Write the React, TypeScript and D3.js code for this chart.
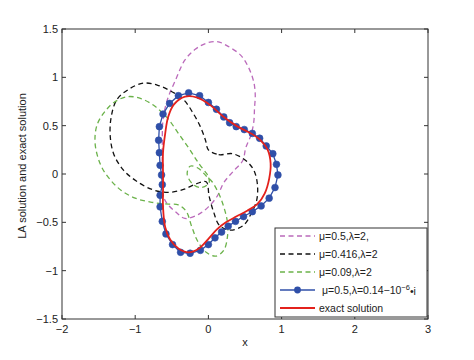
import React, { useEffect, useRef } from 'react';
import * as d3 from 'd3';

// curve points, [x, y] in data units
const magentaCurve: [number, number][] = [
  [-0.62, -0.22], [-0.63, 0.04], [-0.63, 0.30], [-0.62, 0.56], [-0.56, 0.77], [-0.45, 0.97],
  [-0.32, 1.18], [-0.18, 1.29], [-0.04, 1.35], [0.12, 1.37], [0.27, 1.32], [0.44, 1.23],
  [0.55, 1.10], [0.62, 0.95], [0.64, 0.82], [0.63, 0.68], [0.62, 0.54], [0.58, 0.40],
  [0.51, 0.27], [0.47, 0.14], [0.33, 0.02], [0.21, -0.09], [0.12, -0.23], [0.00, -0.34],
  [-0.14, -0.42], [-0.32, -0.46], [-0.45, -0.39], [-0.56, -0.31],
];

const blackCurve: [number, number][] = [
  [0.00, 0.25], [0.14, 0.20], [0.33, 0.21], [0.51, 0.14], [0.62, 0.04], [0.67, -0.11],
  [0.66, -0.27], [0.59, -0.40], [0.48, -0.53], [0.30, -0.58], [0.15, -0.53], [0.07, -0.39],
  [0.01, -0.23], [-0.03, -0.08], [-0.16, -0.10], [-0.34, -0.16], [-0.55, -0.19], [-0.77, -0.16],
  [-0.99, -0.07], [-1.16, 0.04], [-1.29, 0.20], [-1.34, 0.38], [-1.33, 0.58], [-1.25, 0.77],
  [-1.08, 0.88], [-0.89, 0.94], [-0.70, 0.92], [-0.52, 0.86], [-0.34, 0.77], [-0.21, 0.63],
  [-0.11, 0.49], [-0.04, 0.35],
];

const greenCurve: [number, number][] = [
  [-0.01, -0.01], [-0.14, 0.12], [-0.27, 0.27], [-0.41, 0.42], [-0.56, 0.58], [-0.73, 0.70],
  [-0.92, 0.78], [-1.11, 0.80], [-1.29, 0.74], [-1.42, 0.64], [-1.52, 0.51], [-1.55, 0.35],
  [-1.52, 0.20], [-1.45, 0.06], [-1.34, -0.06], [-1.19, -0.17], [-1.00, -0.25], [-0.79, -0.29],
  [-0.59, -0.31], [-0.41, -0.32], [-0.30, -0.39], [-0.23, -0.54], [-0.15, -0.69], [-0.03, -0.81],
  [0.10, -0.85], [0.21, -0.79], [0.26, -0.65], [0.26, -0.50], [0.21, -0.34], [0.14, -0.20],
  [0.05, -0.08], [-0.03, -0.02], [-0.14, 0.06], [-0.25, 0.08], [-0.29, 0.00], [-0.22, -0.10],
  [-0.10, -0.14], [0.01, -0.09], [-0.01, -0.01],
];

const blueCurve: [number, number][] = [
  [-0.63, -0.11], [-0.64, -0.01], [-0.66, 0.09], [-0.67, 0.22], [-0.68, 0.35], [-0.67, 0.49],
  [-0.62, 0.62], [-0.53, 0.73], [-0.41, 0.81], [-0.27, 0.84], [-0.12, 0.81], [0.00, 0.74],
  [0.11, 0.67], [0.21, 0.59], [0.29, 0.53], [0.38, 0.49], [0.49, 0.46], [0.60, 0.42],
  [0.70, 0.37], [0.79, 0.29], [0.88, 0.21], [0.93, 0.10], [0.95, -0.01], [0.91, -0.14],
  [0.83, -0.25], [0.72, -0.33], [0.60, -0.39], [0.48, -0.44], [0.37, -0.49], [0.27, -0.54],
  [0.18, -0.60], [0.09, -0.66], [0.00, -0.73], [-0.11, -0.79], [-0.25, -0.82], [-0.38, -0.81],
  [-0.49, -0.73], [-0.58, -0.62], [-0.63, -0.49], [-0.66, -0.34], [-0.66, -0.22],
];

const exactCurve: [number, number][] = [
  [-0.62, -0.17], [-0.62, 0.01], [-0.62, 0.22], [-0.59, 0.42], [-0.55, 0.59], [-0.47, 0.72],
  [-0.32, 0.80], [-0.15, 0.79], [0.03, 0.71], [0.21, 0.59], [0.40, 0.49], [0.58, 0.42],
  [0.71, 0.35], [0.81, 0.25], [0.85, 0.11], [0.83, -0.05], [0.77, -0.20], [0.67, -0.31],
  [0.53, -0.38], [0.38, -0.44], [0.24, -0.50], [0.12, -0.57], [0.00, -0.67], [-0.13, -0.77],
  [-0.27, -0.81], [-0.41, -0.77], [-0.52, -0.68], [-0.59, -0.55], [-0.62, -0.34],
];

const xTicks = [-2, -1, 0, 1, 2, 3];
const yTicks = [-1.5, -1, -0.5, 0, 0.5, 1, 1.5];

const MAGENTA = '#bb6abb';
const BLACK = '#111111';
const GREEN = '#6bb24a';
const BLUE = '#2f4fa8';
const RED = '#e3211c';

const FONT = '"Liberation Sans", Arial, sans-serif';

export default function App() {
  const svgRef = useRef<SVGSVGElement>(null);

  useEffect(() => {
    if (!svgRef.current) return;
    const svg = d3.select(svgRef.current);
    svg.selectAll('*').remove();

    const left = 62, right = 428, top = 29, bottom = 319;
    const x = d3.scaleLinear().domain([-2, 3]).range([left, right]);
    const y = d3.scaleLinear().domain([-1.5, 1.5]).range([bottom, top]);

    svg.append('rect').attr('width', 474).attr('height', 360).attr('fill', '#fff');

    const plot = svg.append('g');
    const smoothClosed = d3.line<[number, number]>()
      .x(d => x(d[0])).y(d => y(d[1]))
      .curve(d3.curveCatmullRomClosed.alpha(0.5));
    const smoothOpen = d3.line<[number, number]>()
      .x(d => x(d[0])).y(d => y(d[1]))
      .curve(d3.curveCatmullRom.alpha(0.5));
    const straightClosed = d3.line<[number, number]>()
      .x(d => x(d[0])).y(d => y(d[1]))
      .curve(d3.curveLinearClosed);

    const dash = '5,3.5';
    plot.append('path').attr('d', smoothClosed(magentaCurve))
      .attr('fill', 'none').attr('stroke', MAGENTA).attr('stroke-width', 1.3).attr('stroke-dasharray', dash);
    plot.append('path').attr('d', smoothClosed(blackCurve))
      .attr('fill', 'none').attr('stroke', BLACK).attr('stroke-width', 1.3).attr('stroke-dasharray', dash);
    plot.append('path').attr('d', smoothOpen(greenCurve))
      .attr('fill', 'none').attr('stroke', GREEN).attr('stroke-width', 1.3).attr('stroke-dasharray', dash);

    plot.append('path').attr('d', straightClosed(blueCurve))
      .attr('fill', 'none').attr('stroke', BLUE).attr('stroke-width', 1.3);
    plot.selectAll('circle.m').data(blueCurve).enter().append('circle')
      .attr('class', 'm')
      .attr('cx', d => x(d[0])).attr('cy', d => y(d[1])).attr('r', 3.4)
      .attr('fill', BLUE).attr('stroke', BLUE).attr('stroke-width', 0.6);

    plot.append('path').attr('d', smoothClosed(exactCurve))
      .attr('fill', 'none').attr('stroke', RED).attr('stroke-width', 1.8);

    // axes box + ticks on all four sides
    const axes = svg.append('g').attr('font-family', FONT).attr('font-size', 11).attr('fill', '#222');
    axes.append('rect').attr('x', left).attr('y', top).attr('width', right - left).attr('height', bottom - top)
      .attr('fill', 'none').attr('stroke', '#333').attr('stroke-width', 1);
    xTicks.forEach(t => {
      axes.append('line').attr('x1', x(t)).attr('x2', x(t)).attr('y1', bottom).attr('y2', bottom - 4)
        .attr('stroke', '#333');
      axes.append('line').attr('x1', x(t)).attr('x2', x(t)).attr('y1', top).attr('y2', top + 4)
        .attr('stroke', '#333');
      axes.append('text').attr('x', x(t)).attr('y', bottom + 14).attr('text-anchor', 'middle')
        .text(t < 0 ? `\u2212${Math.abs(t)}` : `${t}`);
    });
    yTicks.forEach(t => {
      axes.append('line').attr('x1', left).attr('x2', left + 4).attr('y1', y(t)).attr('y2', y(t))
        .attr('stroke', '#333');
      axes.append('line').attr('x1', right).attr('x2', right - 4).attr('y1', y(t)).attr('y2', y(t))
        .attr('stroke', '#333');
      axes.append('text').attr('x', left - 4).attr('y', y(t)).attr('dy', '0.35em').attr('text-anchor', 'end')
        .text(t < 0 ? `\u2212${Math.abs(t)}` : `${t}`);
    });
    axes.append('text').attr('x', (left + right) / 2).attr('y', bottom + 27).attr('text-anchor', 'middle').text('x');
    axes.append('text').attr('transform', `translate(26,${(top + bottom) / 2 - 8}) rotate(-90)`)
      .attr('text-anchor', 'middle').text('LA solution and exact solution');

    // legend
    const lg = svg.append('g').attr('font-family', FONT).attr('font-size', 10.5).attr('fill', '#222');
    lg.append('rect').attr('x', 275).attr('y', 228).attr('width', 152).attr('height', 89)
      .attr('fill', '#fff').attr('stroke', '#333').attr('stroke-width', 1);
    const rows = [
      { color: MAGENTA, dashed: true, marker: false, width: 1.3, label: ['\u03bc=0.5,\u03bb=2,'] },
      { color: BLACK, dashed: true, marker: false, width: 1.3, label: ['\u03bc=0.416,\u03bb=2'] },
      { color: GREEN, dashed: true, marker: false, width: 1.3, label: ['\u03bc=0.09,\u03bb=2'] },
      { color: BLUE, dashed: false, marker: true, width: 1.3, label: ['\u03bc=0.5,\u03bb=0.14\u221210', '\u22126', '\u2022i'] },
      { color: RED, dashed: false, marker: false, width: 1.8, label: ['exact solution'] },
    ];
    rows.forEach((r, i) => {
      const ry = 236 + i * 18;
      lg.append('line').attr('x1', 280).attr('x2', 315).attr('y1', ry).attr('y2', ry)
        .attr('stroke', r.color).attr('stroke-width', r.width)
        .attr('stroke-dasharray', r.dashed ? '5,3.5' : null);
      if (r.marker) {
        lg.append('circle').attr('cx', 297.5).attr('cy', ry).attr('r', 3.4).attr('fill', r.color);
      }
      const t = lg.append('text').attr('x', r.marker ? 322 : 319).attr('y', ry).attr('dy', '0.35em');
      t.append('tspan').text(r.label[0]);
      if (r.label.length > 1) {
        t.append('tspan').attr('dy', '-0.45em').attr('font-size', 7.5).text(r.label[1]);
        t.append('tspan').attr('dy', '0.45em').text(r.label[2]);
      }
    });
  }, []);

  return (
    <svg ref={svgRef} width={474} height={360}
      style={{ position: 'absolute', left: 0, top: 0, display: 'block' }} />
  );
}
